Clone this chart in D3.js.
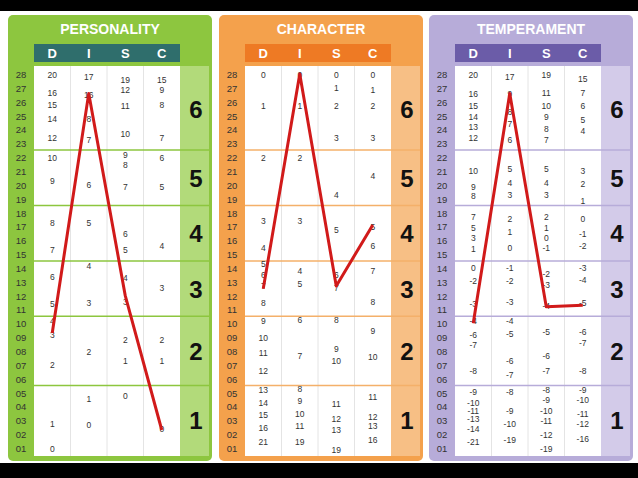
<!DOCTYPE html>
<html><head><meta charset="utf-8">
<script src="https://cdn.jsdelivr.net/npm/d3@7"></script>
<style>body{margin:0;background:#000}svg{display:block}</style>
</head><body>
<svg id="chart" width="638" height="478"></svg>
<script>
// Niveles de fila (28..01) y segmentos 6..1
const rowLabels = d3.range(28, 0, -1).map(d => String(d).padStart(2, "0"));
const columns = ["D", "I", "S", "C"];
const segments = [[6, 28, 23], [5, 22, 19], [4, 18, 15], [3, 14, 11], [2, 10, 6], [1, 5, 1]];

// Cada valor: [etiqueta, nivel]
const personalityD = [[20,28],[16,26.7],[15,25.8],[14,24.8],[12,23.4],[10,22],[9,20.3],[8,17.3],[7,15.3],[6,13.4],[5,11.4],[4,10.2],[3,9.2],[2,7],[1,2.8],[0,1]];
const personalityI = [[17,27.8],[16,26.5],[8,24.8],[7,23.3],[6,20],[5,17.3],[4,14.2],[3,11.5],[2,8],[1,4.6],[0,2.7]];
const personalityS = [[19,27.6],[12,26.9],[11,25.7],[10,23.7],[9,22.2],[8,21.5],[7,19.9],[6,16.5],[5,15.3],[4,13.3],[3,11.6],[2,8.8],[1,7.3],[0,4.8]];
const personalityC = [[15,27.6],[9,26.9],[8,25.8],[7,23.4],[6,22],[5,19.9],[4,15.6],[3,12.6],[2,8.8],[1,7.3],[0,2.4]];
const personalityLine = [9.3, 26.6, 12, 2.3];

const characterD = [[0,28],[1,25.7],[2,22],[3,17.4],[4,15.5],[5,14.3],[6,13.5],[7,12.7],[8,11.5],[9,10.2],[10,9],[11,7.9],[12,6.6],[13,5.2],[14,4.3],[15,3.4],[16,2.5],[21,1.5]];
const characterI = [[0,28],[1,25.7],[2,22],[3,17.4],[4,13.8],[5,12.9],[6,10.3],[7,7.7],[8,5.3],[9,4.4],[10,3.5],[11,2.6],[19,1.5]];
const characterS = [[0,28],[1,27],[2,25.7],[3,23.4],[4,19.3],[5,16.8],[6,13.5],[7,12.6],[8,10.3],[9,8.2],[10,7.3],[11,4.2],[12,3.1],[13,2.3],[19,0.9]];
const characterC = [[0,28],[1,26.9],[2,25.7],[3,23.4],[4,20.7],[5,17],[6,15.6],[7,13.8],[8,11.6],[9,9.5],[10,7.6],[11,4.7],[12,3.3],[13,2.6],[16,1.6]];
const characterLine = [12.5, 28, 12.7, 17.1];

const temperamentD = [[20,28],[16,26.6],[15,25.7],[14,24.9],[13,24.2],[12,23.4],[10,21],[9,19.9],[8,19.2],[7,17.7],[5,16.9],[3,16.2],[1,15.4],[0,14],[-2,13.1],[-3,11.4],[-4,10.2],[-6,9.2],[-7,8.5],[-8,6.6],[-9,5.1],[-10,4.3],[-11,3.7],[-13,3.1],[-14,2.4],[-21,1.5]];
const temperamentI = [[17,27.8],[9,26.6],[8,25.3],[7,24.4],[6,23.3],[5,21.2],[4,20.2],[3,19.3],[2,17.6],[1,16.6],[0,15.5],[-1,14],[-2,13.1],[-3,11.6],[-4,10.2],[-5,9.3],[-6,7.3],[-7,6.3],[-8,5.1],[-9,3.7],[-10,2.8],[-19,1.6]];
const temperamentS = [[19,28],[11,26.7],[10,25.7],[9,24.9],[8,24.1],[7,23.3],[5,21.2],[4,20.2],[3,19.3],[2,17.7],[1,16.9],[0,16.2],[-1,15.5],[-2,13.6],[-3,12.8],[-4,11.3],[-5,9.4],[-6,7.7],[-7,6.6],[-8,5.2],[-9,4.5],[-10,3.7],[-11,3],[-12,2],[-19,1]];
const temperamentC = [[15,27.7],[7,26.7],[6,25.7],[5,24.7],[4,23.9],[3,21],[2,20.1],[1,18.9],[0,17.6],[-1,16.5],[-2,15.6],[-3,14],[-4,13.2],[-5,11.5],[-6,9.4],[-7,8.6],[-8,6.6],[-9,5.2],[-10,4.5],[-11,3.5],[-12,2.8],[-16,1.7]];
const temperamentLine = [10, 26.6, 11.2, 11.3];

const panels = [
  {title: "PERSONALITY", x: 8, frame: "#8dc63f", head: "#2f6e6c", side: "#b2da7a", grid: "#8dc63f",
   cols: [personalityD, personalityI, personalityS, personalityC], line: personalityLine},
  {title: "CHARACTER", x: 219, frame: "#f4a14c", head: "#ee7a24", side: "#f7bf85", grid: "#f4b06a",
   cols: [characterD, characterI, characterS, characterC], line: characterLine},
  {title: "TEMPERAMENT", x: 429, frame: "#b7acd9", head: "#6b5ca8", side: "#d3cbe9", grid: "#b7acd9",
   cols: [temperamentD, temperamentI, temperamentS, temperamentC], line: temperamentLine}
];

const svg = d3.select("#chart");
svg.append("rect").attr("y", 11).attr("width", 638).attr("height", 452).attr("fill", "#fff");

const y = d3.scaleLinear().domain([28, 1]).range([74, 448]);
const gridTop = 66, gridBot = 456;
const x = d3.scaleBand().domain(columns).range([26, 172]);
const font = "Arial, 'Liberation Sans', sans-serif";

panels.forEach(p => {
  const g = svg.append("g").attr("transform", `translate(${p.x},0)`);
  g.append("rect").attr("x", 0).attr("y", 15).attr("width", 204).attr("height", 446).attr("rx", 5).attr("fill", p.frame);
  g.append("rect").attr("x", 172).attr("y", gridTop).attr("width", 29).attr("height", gridBot - gridTop).attr("fill", p.side);
  g.append("rect").attr("x", 26).attr("y", gridTop).attr("width", 146).attr("height", gridBot - gridTop).attr("fill", "#fff");
  g.append("text").attr("x", 102).attr("y", 34).attr("text-anchor", "middle")
    .attr("font-family", font).attr("font-weight", "bold").attr("font-size", 14).attr("fill", "#fff").text(p.title);
  g.append("rect").attr("x", 26).attr("y", 44).attr("width", 146).attr("height", 18).attr("fill", p.head);
  g.selectAll(".hd").data(columns).join("text")
    .attr("x", d => x(d) + x.bandwidth() / 2).attr("y", 58).attr("text-anchor", "middle")
    .attr("font-family", font).attr("font-weight", "bold").attr("font-size", 13).attr("fill", "#fff").text(d => d);
  // separadores de columna
  g.selectAll(".vl").data(columns.slice(1)).join("line")
    .attr("x1", d => x(d)).attr("x2", d => x(d)).attr("y1", gridTop).attr("y2", gridBot)
    .attr("stroke", "#e4e4e4");
  // separadores de segmento
  g.selectAll(".sg").data(segments.slice(1)).join("line")
    .attr("x1", 26).attr("x2", 201).attr("y1", d => y(d[1]) - 7).attr("y2", d => y(d[1]) - 7)
    .attr("stroke", p.grid).attr("stroke-width", 1.5);
  g.selectAll(".sn").data(segments).join("text")
    .attr("x", 188).attr("y", d => (y(d[1]) + y(d[2])) / 2 + 9).attr("text-anchor", "middle")
    .attr("font-family", font).attr("font-weight", "bold").attr("font-size", 24).attr("fill", "#111").text(d => d[0]);
  g.selectAll(".rl").data(rowLabels).join("text")
    .attr("x", 13).attr("y", d => y(+d) + 4).attr("text-anchor", "middle")
    .attr("font-family", font).attr("font-size", 9.5).attr("fill", "#333").text(d => d);
  p.cols.forEach((vals, i) => {
    g.selectAll(".c" + i).data(vals).join("text")
      .attr("x", x(columns[i]) + x.bandwidth() / 2).attr("y", d => y(d[1]) + 3.5).attr("text-anchor", "middle")
      .attr("font-family", font).attr("font-size", 8.5).attr("fill", "#333").text(d => d[0]);
  });
  g.append("path")
    .datum(p.line)
    .attr("d", d3.line().x((d, i) => x(columns[i]) + x.bandwidth() / 2).y(d => y(d)))
    .attr("fill", "none").attr("stroke", "#d11a1a").attr("stroke-width", 3).attr("stroke-linejoin", "round");
});
</script>
</body></html>
